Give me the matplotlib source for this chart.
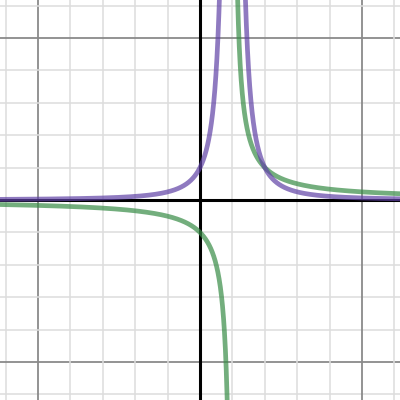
import matplotlib
matplotlib.use("Agg")
import matplotlib.pyplot as plt
import numpy as np

# curves of the form y = k / (x - h)^p
curve_names = ["green", "purple"]
curve_k = [1.0, 1.0]
curve_h = [1.0, 1.0]
curve_p = [1, 2]
curve_colors = ["#388c46", "#6042a6"]

x_range = (-6.17, 6.17)
y_range = (-6.17, 6.17)
minor_step = 1
major_step = 5

fig = plt.figure(figsize=(4, 4), dpi=100)
ax = fig.add_axes([0, 0, 1, 1])

# grid
ticks = np.arange(-6, 7, minor_step)
for t in ticks:
    if t == 0:
        continue
    major = (t % major_step == 0)
    col = "#8a8a8a" if major else "#dddddd"
    lw = 1.3 if major else 1.1
    ax.axvline(t, color=col, lw=lw, zorder=0)
    ax.axhline(t, color=col, lw=lw, zorder=0)
ax.axvline(0, color="black", lw=2.2, zorder=1)
ax.axhline(0, color="black", lw=2.2, zorder=1)

for k, h, p, c in zip(curve_k, curve_h, curve_p, curve_colors):
    left = np.linspace(x_range[0], h - 1e-3, 2000)
    right = np.linspace(h + 1e-3, x_range[1], 2000)
    for xs in (left, right):
        ys = k / (xs - h) ** p
        ax.plot(xs, ys, color=c, lw=3.4, alpha=0.7, zorder=2,
                solid_capstyle="round")

ax.set_xlim(*x_range)
ax.set_ylim(*y_range)
ax.set_xticks([])
ax.set_yticks([])
for s in ax.spines.values():
    s.set_visible(False)

fig.savefig("out.png", dpi=100)
